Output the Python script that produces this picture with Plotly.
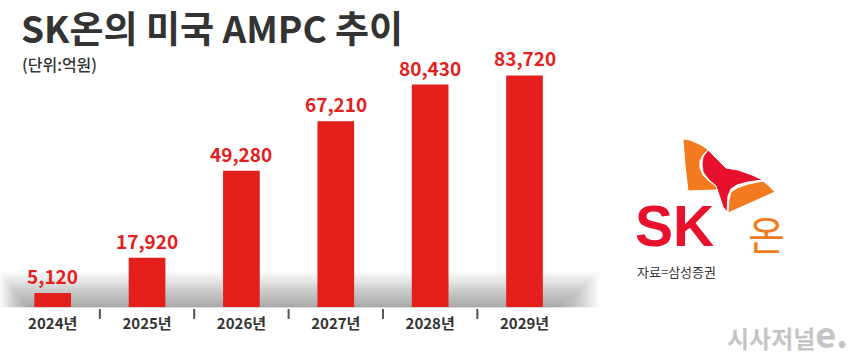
import plotly.graph_objects as go

# ---- data ----
years = ["2024년", "2025년", "2026년", "2027년", "2028년", "2029년"]
values = [5120, 17920, 49280, 67210, 80430, 83720]
value_labels = ["5,120", "17,920", "49,280", "67,210", "80,430", "83,720"]
title_text = "SK온의 미국 AMPC 추이"
unit_text = "(단위:억원)"
source_text = "자료=삼성증권"

W, H = 860, 358
RED = "#e3201c"
DARK = "#333333"
KFONT = "Noto Sans CJK KR"


def px(x):
    return x / W


def py(y):
    return 1 - y / H


# plot geometry (pixels)
base_y = 307.3
top_y = 30.0
scale = 2.77 / 1000.0  # px per unit
x_left, x_right = 5.5, 571.7

fig = go.Figure()
fig.add_trace(go.Bar(
    x=years, y=values, marker=dict(color=RED, line=dict(width=0)),
    hoverinfo="skip", showlegend=False,
))

shapes = []
# gray shadow gradient behind bars
n = 36
for k in range(n):
    t = k / n
    shapes.append(dict(
        type="rect", xref="paper", yref="paper", layer="below",
        x0=px(0 + 30 * t), x1=px(600 - 45 * t),
        y0=py(base_y - 36 * (1 - t) ** 1.2), y1=py(base_y),
        fillcolor="#606060", opacity=0.02, line=dict(width=0),
    ))
# separators between categories
for i in range(len(years) - 1):
    shapes.append(dict(
        type="line", xref="x", yref="paper",
        x0=i + 0.5, x1=i + 0.5, y0=py(309), y1=py(319),
        line=dict(color="#555555", width=2),
    ))


def path(points):
    s = "M " + " L ".join(f"{px(x):.5f},{py(y):.5f}" for x, y in points) + " Z"
    return s


ORANGE = "#f47a20"
LOGO_RED = "#e8112d"
upper_orange = [(683, 139), (690, 140), (697, 143), (703, 146), (708, 150),
                (703, 155), (700, 161), (700, 168), (703, 175), (709, 181),
                (716, 186), (717, 190), (688, 191), (685, 165)]
red_part = [(708, 150), (715, 157), (721, 163), (726, 168), (738, 170),
            (752, 175), (763, 180), (748, 182), (737, 185), (731, 189),
            (728, 196), (727, 212), (723, 207), (720, 198), (716, 186),
            (709, 180), (703, 172), (702, 164), (703, 157)]
lower_orange = [(731, 192), (737, 188), (748, 184), (763, 181), (769, 186),
                (775, 192), (728, 213), (729, 200)]
for pts, col in [(upper_orange, ORANGE), (red_part, LOGO_RED), (lower_orange, ORANGE)]:
    shapes.append(dict(type="path", xref="paper", yref="paper", path=path(pts),
                       fillcolor=col, line=dict(width=1, color="white")))

annotations = []
for yr, v, lab in zip(years, values, value_labels):
    annotations.append(dict(
        x=yr, y=v, xref="x", yref="y", text=lab, showarrow=False,
        yanchor="bottom", yshift=2,
        font=dict(family=KFONT, size=19, color=RED, weight="bold"),
    ))

annotations += [
    dict(x=px(19), y=py(27), xref="paper", yref="paper", xanchor="left",
         yanchor="middle", text=title_text, showarrow=False,
         font=dict(family=KFONT, size=37, color=DARK, weight="bold")),
    dict(x=px(20), y=py(64), xref="paper", yref="paper", xanchor="left",
         yanchor="middle", text=unit_text, showarrow=False,
         font=dict(family=KFONT, size=16, color=DARK, weight=500)),
    dict(x=px(633), y=py(226), xref="paper", yref="paper", xanchor="left",
         yanchor="middle", text="SK", showarrow=False,
         font=dict(family="Liberation Sans", size=57, color=LOGO_RED, weight="bold")),
    dict(x=px(746), y=py(233), xref="paper", yref="paper", xanchor="left",
         yanchor="middle", text="온", showarrow=False,
         font=dict(family=KFONT, size=40, color=ORANGE)),
    dict(x=px(635), y=py(271), xref="paper", yref="paper", xanchor="left",
         yanchor="middle", text=source_text, showarrow=False,
         font=dict(family=KFONT, size=13, color=DARK)),
    dict(x=px(725), y=py(332), xref="paper", yref="paper", xanchor="left",
         yanchor="middle",
         text="시사저널<span style='font-size:36px'>e.</span>", showarrow=False,
         font=dict(family=KFONT, size=24, color="#c4c4c4", weight="bold")),
]

fig.update_layout(
    width=W, height=H, margin=dict(l=0, r=0, t=0, b=0),
    paper_bgcolor="white", plot_bgcolor="rgba(0,0,0,0)",
    bargap=1 - 36.7 / 94.4, showlegend=False,
    shapes=shapes, annotations=annotations,
    xaxis=dict(domain=[px(x_left), px(x_right)], range=[-0.5, 5.5],
               type="category", showgrid=False, zeroline=False, showline=False,
               ticks="", automargin=False, ticklabelstandoff=6,
               tickfont=dict(family=KFONT, size=15, color=DARK, weight="bold")),
    yaxis=dict(domain=[py(base_y), py(top_y)],
               range=[0, (base_y - top_y) / scale], visible=False,
               automargin=False),
)

fig.write_html("out.html", config={"displayModeBar": False},
               post_script="document.body.style.margin='0';document.body.style.overflow='hidden';")
